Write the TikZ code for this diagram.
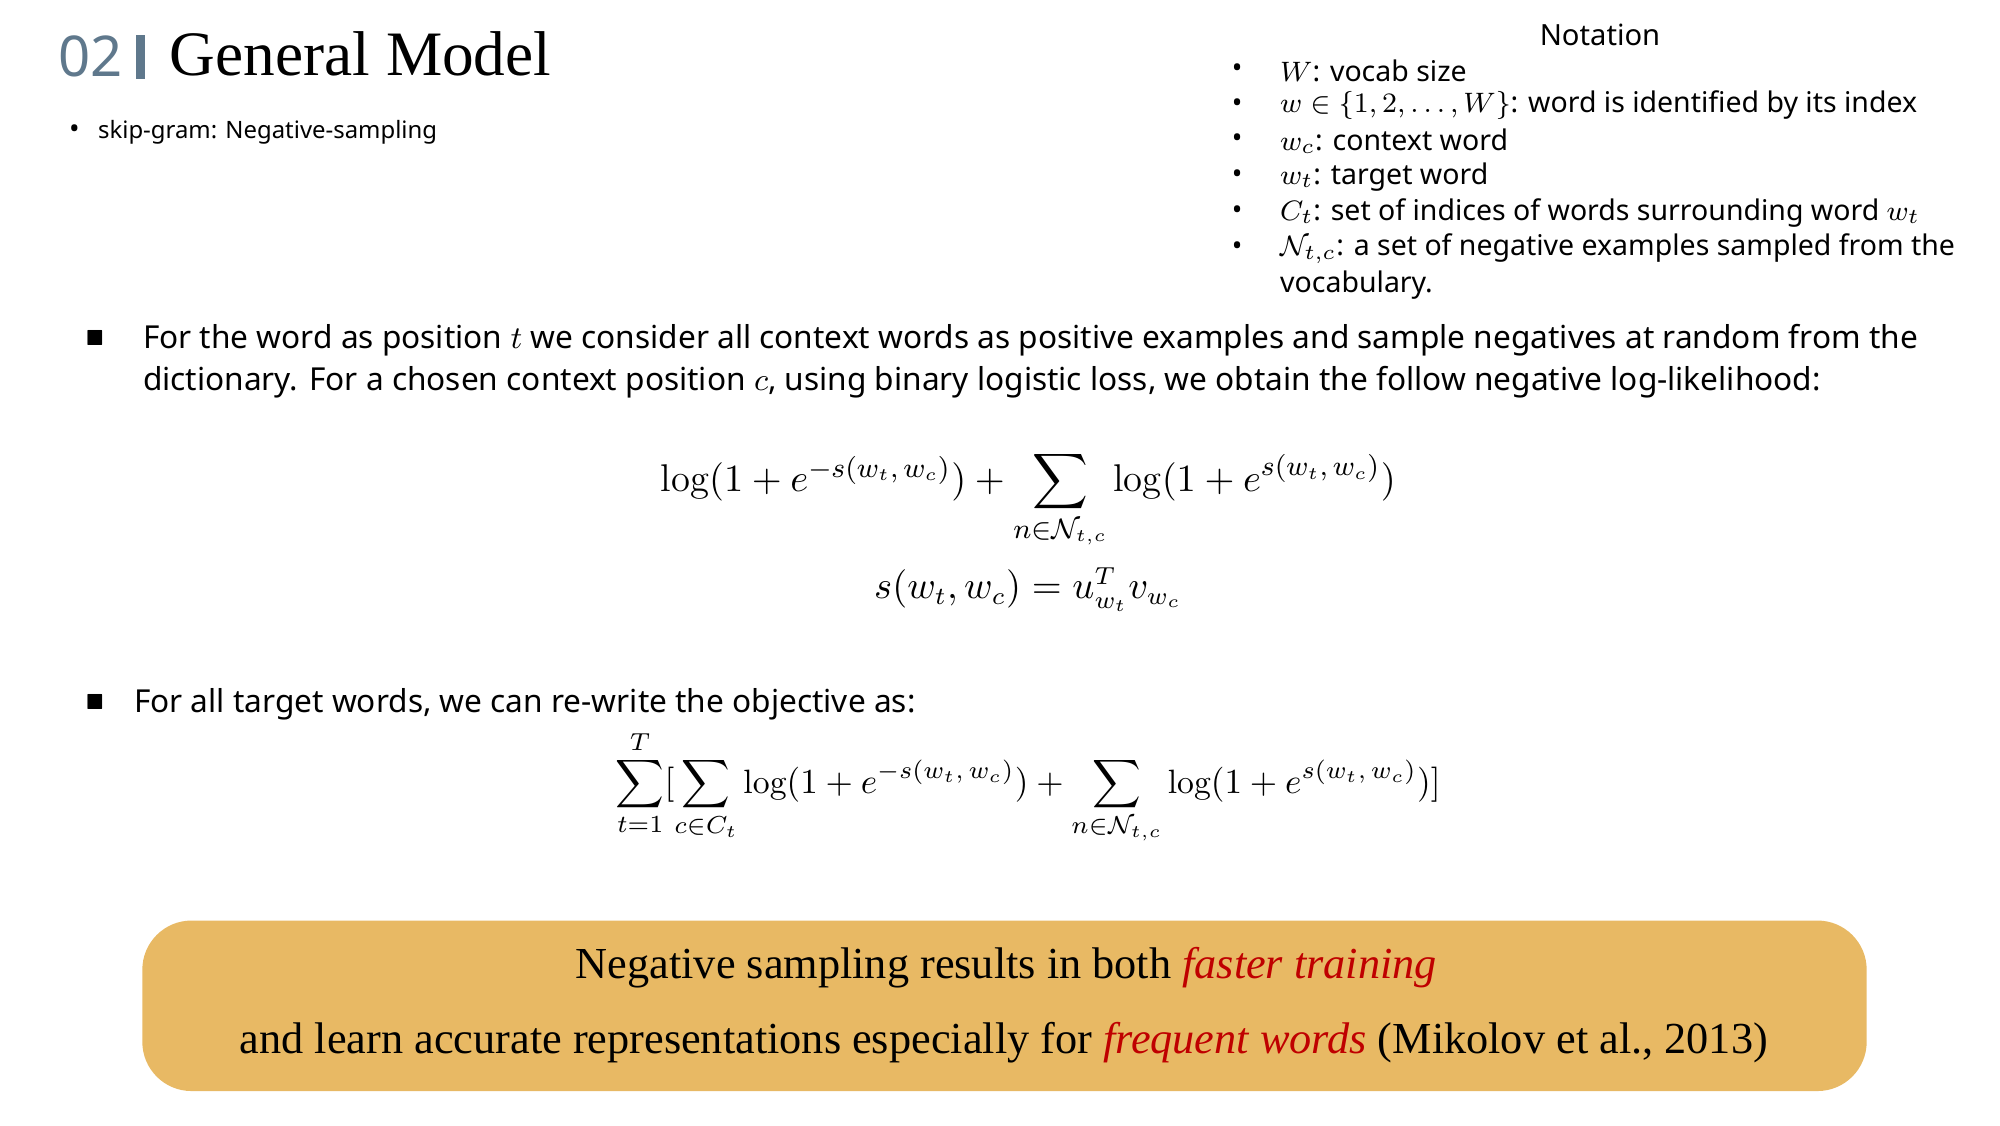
\documentclass[tikz,border=0pt]{standalone}
\usepackage{amsmath,amssymb}
\usepackage{fontspec}
\setsansfont{Noto Sans}
\newfontfamily\serifa{Liberation Serif}
\definecolor{slate}{RGB}{95,120,140}
\definecolor{boxc}{RGB}{232,185,100}
\begin{document}
\begin{tikzpicture}[x=0.01282cm,y=-0.01282cm,
  body/.style={font=\sffamily\fontsize{9.0}{12}\selectfont,anchor=west,inner sep=0},
  notes/.style={font=\sffamily\fontsize{8.1}{10}\selectfont,anchor=west,inner sep=0},
  bul/.style={font=\sffamily\fontsize{8}{10}\selectfont,inner sep=0},
  sq/.style={font=\fontsize{5}{6}\selectfont,inner sep=0}]
\useasboundingbox (0,0) rectangle (1560,878);
\node[anchor=west,inner sep=0,font=\sffamily\fontsize{16}{20}\selectfont,text=slate] (num) at (45,44) {02};
\fill[slate] (106,27) rectangle (113,62);
\node[anchor=west,inner sep=0,font=\serifa\fontsize{18}{22}\selectfont] (title) at (132,42) {General Model};
\node[bul] (b0) at (58,103) {\textbullet};
\node[anchor=west,inner sep=0,font=\sffamily\fontsize{6.8}{8}\selectfont] (sg) at (76,103) {skip-gram: Negative-sampling};
% notation
\node[inner sep=0,font=\sffamily\fontsize{8.3}{10}\selectfont] (nt) at (1248,27) {Notation};
\foreach \y/\t [count=\i] in {55/{$W$: vocab size},
  82/{$w\in\{1,2,\ldots,W\}$: word is identified by its index},
  110/{$w_c$: context word},
  138/{$w_t$: target word},
  166/{$C_t$: set of indices of words surrounding word $w_t$},
  194/{$\mathcal{N}_{t,c}$: a set of negative examples sampled from the}}{
  \node[bul] (nb\i) at (965,\y) {\textbullet};
  \node[notes] (n\i) at (998,\y) {\t};
}
\node[notes] (n7) at (998,222) {vocabulary.};
% paragraph 1
\node[sq] (s1) at (74,264) {$\blacksquare$};
\node[body] (p1a) at (111,265) {For the word as position $t$ we consider all context words as positive examples and sample negatives at random from the};
\node[body] (p1b) at (111,298) {dictionary. For a chosen context position $c$, using binary logistic loss, we obtain the follow negative log-likelihood:};
\node[inner sep=0,font=\fontsize{11}{13}\selectfont] (eq1) at (802,390) {$\log(1+e^{-s(w_t,\,w_c)})+\displaystyle\sum_{n\in\mathcal{N}_{t,c}}\log(1+e^{s(w_t,\,w_c)})$};
\node[inner sep=0,font=\fontsize{10.5}{13}\selectfont] (eq2) at (802,460) {$s(w_t,w_c)=u_{w_t}^{T}v_{w_c}$};
\node[sq] (s2) at (74,548) {$\blacksquare$};
\node[body] (p2) at (104,549) {For all target words, we can re-write the objective as:};
\node[inner sep=0,font=\fontsize{9.6}{13}\selectfont] (eq3) at (802,614) {$\displaystyle\sum_{t=1}^{T}[\sum_{c\in C_t}\log(1+e^{-s(w_t,\,w_c)})+\sum_{n\in\mathcal{N}_{t,c}}\log(1+e^{s(w_t,\,w_c)})]$};
% box
\fill[rounded corners=14, fill=boxc] (111,718) rectangle (1456,851);
\node[inner sep=0,font=\serifa\fontsize{12.6}{15}\selectfont] (bx1) at (785,755) {Negative sampling results in both \textcolor{red!75!black}{\itshape faster training}};
\node[inner sep=0,font=\serifa\fontsize{12.6}{15}\selectfont] (bx2) at (783,813) {and learn accurate representations especially for \textcolor{red!75!black}{\itshape frequent words} (Mikolov et al., 2013)};
\end{tikzpicture}
\end{document}
